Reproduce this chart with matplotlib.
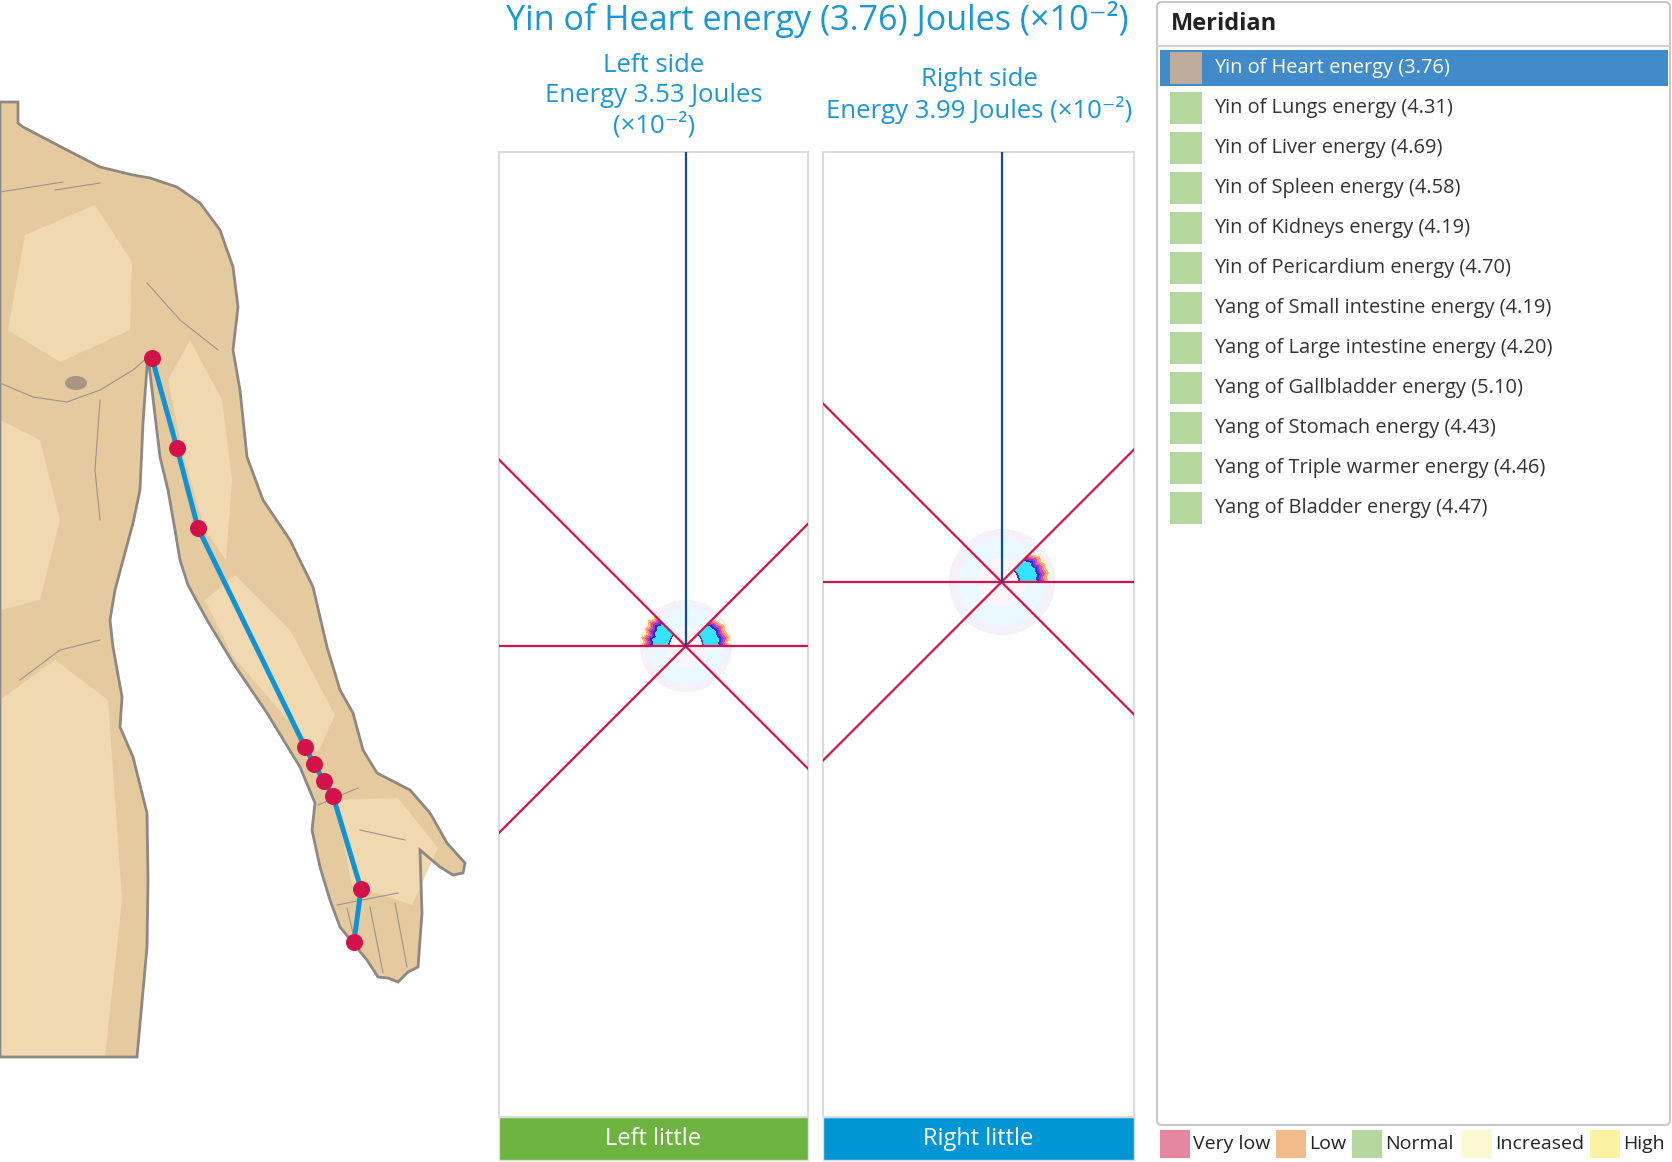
import numpy as np
import matplotlib
matplotlib.use("Agg")
import matplotlib.pyplot as plt
from matplotlib.patches import Polygon, Rectangle, FancyBboxPatch, Ellipse

plt.rcParams['font.family'] = ['Open Sans', 'DejaVu Sans']

# ---------------- data ----------------
title_name = "Yin of Heart energy"
title_value = 3.76
side_names = ["Left side", "Right side"]
side_energy = [3.53, 3.99]
finger_names = ["Left little", "Right little"]
finger_colors = ["#6db33f", "#0096d6"]

meridian_names = ["Yin of Heart energy", "Yin of Lungs energy", "Yin of Liver energy",
                  "Yin of Spleen energy", "Yin of Kidneys energy", "Yin of Pericardium energy",
                  "Yang of Small intestine energy", "Yang of Large intestine energy",
                  "Yang of Gallbladder energy", "Yang of Stomach energy",
                  "Yang of Triple warmer energy", "Yang of Bladder energy"]
meridian_values = [3.76, 4.31, 4.69, 4.58, 4.19, 4.70, 4.19, 4.20, 5.10, 4.43, 4.46, 4.47]
meridian_colors = ["#bcab9b"] + ["#b5d8a0"] * 11

level_names = ["Very low", "Low", "Normal", "Increased", "High"]
level_colors = ["#e5879f", "#f2bb8a", "#b5d8a0", "#fbf8d2", "#fbf3a2"]

sector_labels = ["1", "2", "3", "4", "5", "6"]
red_line_angles = [0, 45, 135]      # full lines through the centre
blue_ray_angle = 90                  # ray from centre to the top

# energy blobs: (sector angle start, end, outer radius profile)
left_blobs = [(135, 180, [45, 42, 46, 43, 45, 41, 46, 43, 45]),
              (0, 45, [44, 42, 45, 43, 42, 44, 41, 40, 37])]
right_blobs = [(0, 45, [47, 45, 48, 46, 47, 44, 46, 42, 39])]
blob_inner = 16
halo_radius = [46, 53]

# meridian points on the arm (image pixels)
meridian_pts_x = [152, 177, 198, 305, 314, 324, 333, 361, 354]
meridian_pts_y = [358, 448, 528, 747, 764, 781, 796, 889, 942]

# ---------------- figure ----------------
W, H = 1672, 1162
fig = plt.figure(figsize=(W / 100, H / 100), dpi=100)
bg = fig.add_axes([0, 0, 1, 1])
bg.set_xlim(0, W)
bg.set_ylim(H, 0)
bg.axis("off")

# ---- body illustration ----
skin = "#e6ca9f"
skin_light = "#f0d9b1"
outline = "#8e8883"
body = [(0, 102), (18, 102), (18, 123), (23, 127), (67, 150), (100, 167), (133, 175),
        (150, 178), (177, 187), (200, 203), (220, 230), (233, 267), (238, 307), (233, 350),
        (240, 390), (247, 457), (263, 500), (290, 540), (313, 587), (327, 647), (340, 690),
        (353, 713), (363, 750), (377, 773), (410, 790), (430, 813), (447, 843), (465, 863),
        (463, 873), (453, 875), (440, 867), (420, 850), (422, 913), (418, 967), (408, 972),
        (398, 982), (388, 978), (378, 977), (367, 960), (353, 943), (340, 927), (330, 900),
        (320, 867), (312, 830), (315, 803), (300, 767), (267, 713), (233, 663), (207, 620),
        (188, 585), (180, 560), (175, 530), (168, 490), (160, 457), (150, 373), (148, 353),
        (143, 423), (140, 490), (133, 523), (115, 590), (110, 620), (113, 647), (122, 697),
        (120, 727), (133, 757), (147, 813), (148, 880), (147, 947), (137, 1057), (0, 1057)]
bg.add_patch(Polygon(body, closed=True, facecolor=skin, edgecolor="none", zorder=1))
highlights = [
    [(168, 380), (190, 340), (222, 400), (232, 480), (226, 560), (205, 530), (182, 450)],
    [(205, 600), (235, 575), (290, 630), (335, 715), (318, 752), (288, 720), (232, 655)],
    [(25, 235), (95, 205), (132, 262), (130, 330), (60, 362), (8, 330)],
    [(0, 700), (55, 660), (108, 700), (122, 900), (105, 1057), (0, 1057)],
    [(335, 800), (398, 798), (438, 848), (412, 905), (352, 885)],
    [(0, 420), (40, 440), (60, 520), (40, 600), (0, 610)],
]
for hp in highlights:
    bg.add_patch(Polygon(hp, closed=True, facecolor=skin_light, edgecolor="none", zorder=1.2))
bg.add_patch(Polygon(body, closed=True, facecolor="none", edgecolor=outline, lw=2, zorder=2))
inner_lines = [
    [(0, 383), (33, 397), (67, 402), (100, 390), (133, 370), (148, 357)],
    [(0, 192), (63, 182)],
    [(55, 190), (100, 183)],
    [(147, 283), (180, 320), (218, 350)],
    [(370, 907), (383, 973)],
    [(395, 903), (407, 967)],
    [(347, 908), (353, 933)],
    [(337, 905), (398, 893)],
    [(360, 830), (405, 840)],
    [(318, 805), (358, 788)],
    [(100, 400), (95, 470), (100, 520)],
    [(20, 680), (60, 650), (100, 640)],
]
for ln in inner_lines:
    xs, ys = zip(*ln)
    bg.plot(xs, ys, color="#9a948e", lw=0.8, zorder=2)
bg.add_patch(Ellipse((76, 383), 22, 14, facecolor="#a89684", edgecolor="none", zorder=2))

bg.plot(meridian_pts_x, meridian_pts_y, color="#1193d3", lw=3.6, zorder=3,
        solid_capstyle="round")
bg.scatter(meridian_pts_x, meridian_pts_y, s=150, color="#d3124a", zorder=4, linewidths=0)

# ---- titles ----
blue_txt = "#1a98d5"
bg.text(817, 20, f"{title_name} ({title_value:.2f}) Joules (×10⁻²)", color=blue_txt,
        fontsize=24.6, ha="center", va="center")
bg.text(654, 65, side_names[0], color=blue_txt, fontsize=18.5, ha="center", va="center")
bg.text(654, 95, f"Energy {side_energy[0]:.2f} Joules", color=blue_txt, fontsize=18.5,
        ha="center", va="center")
bg.text(654, 125, "(×10⁻²)", color=blue_txt, fontsize=18.5, ha="center", va="center")
bg.text(979, 80, side_names[1], color=blue_txt, fontsize=18.5, ha="center", va="center")
bg.text(979, 110, f"Energy {side_energy[1]:.2f} Joules (×10⁻²)", color=blue_txt,
        fontsize=18.5, ha="center", va="center")

# ---- polar panels ----
panels = [
    dict(x0=499, x1=808, cx=685.6, cy=646.2, blobs=left_blobs, halo=halo_radius[0],
         labels=[(508.6, 581), (508.6, 727), (685.6, 1093), (783.7, 693), (783.7, 613), (685.6, 215)]),
    dict(x0=823, x1=1133.5, cx=1001.5, cy=582.0, blobs=right_blobs, halo=halo_radius[1],
         labels=[(832.8, 521), (832.8, 659), (1001.5, 1093), (1109, 632), (1109, 545), (1001.5, 215)]),
]
y_top, y_bot, y_bar = 152.5, 1116.5, 1160

red = "#d5124a"


def blob_image(blobs, halo):
    step = 0.5
    g = np.arange(-62, 62, step)
    X, Y = np.meshgrid(g, g)
    R = np.hypot(X, Y)
    T = np.degrees(np.arctan2(Y, X)) % 360
    img = np.zeros(X.shape + (4,))

    def put(mask, color, alpha):
        c = matplotlib.colors.to_rgb(color)
        img[mask, 0:3] = c
        img[mask, 3] = alpha
    # faint halo
    put(R < halo, "#f1eafa", 0.65)
    put(R < halo * 0.82, "#e0f6ff", 0.65)
    put(R < halo * 0.45, "#fcf0f4", 0.65)
    layers = [(0.00, "#3c3ce6"), (0.06, "#35e2ff"), (0.62, "#2a2ad0"),
              (0.70, "#8a3ad2"), (0.78, "#e048a8"), (0.86, "#f08a8a"), (0.93, "#f8c453")]
    for a0, a1, prof in blobs:
        angs = np.linspace(a0, a1, len(prof))
        inside = (T >= a0) & (T <= a1)
        rout = np.interp(T, angs, prof)
        t = (R - blob_inner) / (rout - blob_inner)
        m = inside & (t >= 0) & (t <= 1)
        for i, (lo, col) in enumerate(layers):
            hi = layers[i + 1][0] if i + 1 < len(layers) else 1.01
            put(m & (t >= lo) & (t < hi), col, 1.0)
    return img, [-62, 62 - step, -62, 62 - step]


for k, p in enumerate(panels):
    ax = fig.add_axes([p["x0"] / W, 1 - y_bot / H, (p["x1"] - p["x0"]) / W, (y_bot - y_top) / H])
    ax.set_xlim(p["x0"] - p["cx"], p["x1"] - p["cx"])
    ax.set_ylim(p["cy"] - y_bot, p["cy"] - y_top)
    ax.set_xticks([])
    ax.set_yticks([])
    for s in ax.spines.values():
        s.set_color("#dcdcdc")
        s.set_linewidth(1.5)
    img, ext = blob_image(p["blobs"], p["halo"])
    ax.imshow(img, extent=ext, origin="lower", interpolation="nearest", zorder=1)
    L = 2000
    for a in red_line_angles:
        r = np.radians(a)
        ax.plot([-L * np.cos(r), L * np.cos(r)], [-L * np.sin(r), L * np.sin(r)],
                color=red, lw=1.6, zorder=3)
    rb = np.radians(blue_ray_angle)
    ax.plot([0, L * np.cos(rb)], [0, L * np.sin(rb)], color="#0b4c9c", lw=1.6, zorder=4)
    ax.set_aspect("auto")
    for lab, (lx, ly) in zip(sector_labels, p["labels"]):
        bg.text(lx, ly, lab, color=red, fontsize=14, ha="center", va="center", zorder=5)
    bg.add_patch(Rectangle((p["x0"], y_bot), p["x1"] - p["x0"], y_bar - y_bot,
                           facecolor=finger_colors[k], edgecolor="#dcdcdc", lw=1, zorder=2))
    bg.text((p["x0"] + p["x1"]) / 2, (y_bot + y_bar) / 2 + 1, finger_names[k], color="white",
            fontsize=17, ha="center", va="center", zorder=3)

# ---- meridian legend ----
bx0, bx1, by0, by1 = 1157, 1670, 2, 1125
bg.add_patch(FancyBboxPatch((bx0, by0), bx1 - bx0, by1 - by0,
                            boxstyle="round,pad=0,rounding_size=5",
                            facecolor="white", edgecolor="#c8c8c8", lw=1.5, zorder=1))
bg.plot([bx0, bx1], [46, 46], color="#d0d0d0", lw=1.5, zorder=2)
bg.text(1171, 24, "Meridian", fontsize=17, fontweight="bold", color="#222222",
        ha="left", va="center", zorder=3)
row0, row_h = 67.5, 40.0
for i, (nm, v, c) in enumerate(zip(meridian_names, meridian_values, meridian_colors)):
    yc = row0 + i * row_h
    txt_color = "#333333"
    if i == 0:
        bg.add_patch(Rectangle((1160, yc - 18), 1668 - 1160, 36, facecolor="#428bca",
                               edgecolor="none", zorder=2))
        txt_color = "white"
    bg.add_patch(Rectangle((1170, yc - 16), 32, 32, facecolor=c, edgecolor="none", zorder=3))
    bg.text(1214, yc, f"{nm} ({v:.2f})", fontsize=14.4, color=txt_color,
            ha="left", va="center", zorder=4)

# ---- level legend ----
lx = [1160, 1276, 1352, 1462, 1590]
for x, nm, c in zip(lx, level_names, level_colors):
    bg.add_patch(Rectangle((x, 1130), 30, 28, facecolor=c, edgecolor="none", zorder=2))
    bg.text(x + 33, 1144, nm, fontsize=14, color="#222222", ha="left", va="center", zorder=3)

fig.savefig("out.png", dpi=100)
